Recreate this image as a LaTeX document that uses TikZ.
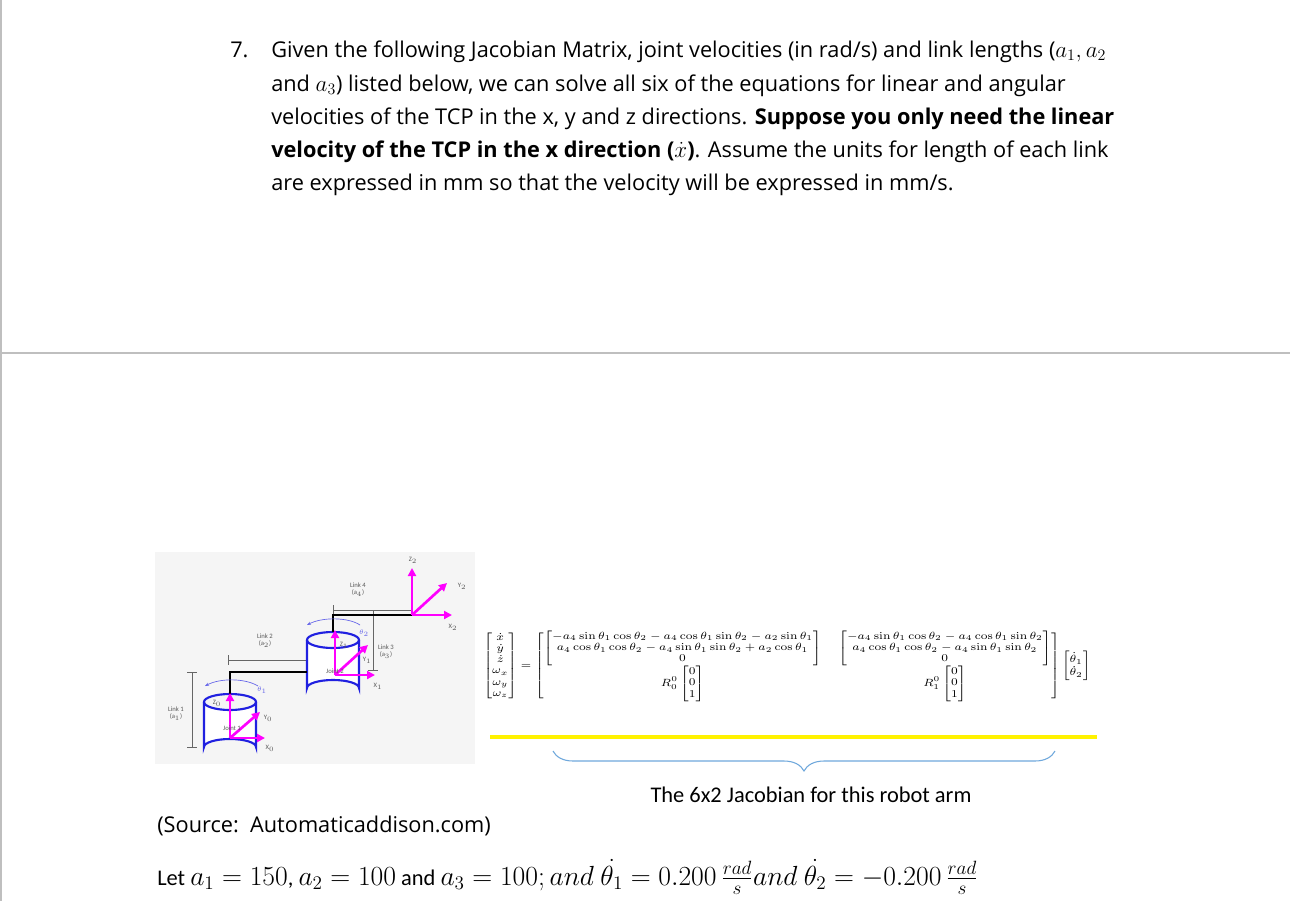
\documentclass[tikz,border=0pt]{standalone}
\usepackage{amsmath}
\usepackage[no-math]{fontspec}
\setmainfont{Open Sans}
\newfontfamily\calfont{Carlito}
\usetikzlibrary{decorations.pathreplacing,arrows.meta}
\definecolor{mag}{HTML}{FF00FF}
\definecolor{cylb}{HTML}{2020E0}
\definecolor{brc}{HTML}{6FA8DC}
\tikzset{
 body/.style={anchor=base west,inner sep=0pt,font=\fontsize{16.3}{18}\selectfont},
 lab/.style={inner sep=0pt,font=\calfont\fontsize{5}{5.5}\selectfont,text=black!65},
 frm/.style={draw=mag,line width=2pt,-{Triangle[length=6pt,width=6pt]}},
 cyl/.style={draw=cylb,line width=1.6pt},
 dim/.style={draw=black!60,line width=0.5pt},
 lnk/.style={draw=black,line width=1.4pt},
 arcst/.style={draw=cylb!70,line width=0.5pt,-{Stealth[length=3pt]}}
}
\newcommand{\bm}[1]{{\fontsize{18.5}{20}\selectfont$#1$}}
\newcommand{\bmb}[1]{{\fontsize{21}{22}\selectfont$#1$}}
\begin{document}
\begin{tikzpicture}[x=0.75pt,y=-0.75pt]
\useasboundingbox (0,0) rectangle (1290,901);
\fill[white] (0,0) rectangle (1290,901);
\draw[black!25,line width=2pt] (1,0) -- (1,901);
\draw[black!25,line width=2.2pt] (0,353) -- (1290,353);
% question text
\node[body] (n7) at (230,57) {7.};
\node[body] (l1) at (271,57) {Given the following Jacobian Matrix, joint velocities (in rad/s) and link lengths (\bm{a_1,a_2}};
\node[body] (l2) at (271,91) {and \bm{a_3}) listed below, we can solve all six of the equations for linear and angular};
\node[body] (l3) at (271,124) {velocities of the TCP in the x, y and z directions. \textbf{Suppose you only need the linear}};
\node[body] (l4) at (271,157) {\textbf{velocity of the TCP in the x direction (\bm{\dot{x}})}. Assume the units for length of each link};
\node[body] (l5) at (271,190) {are expressed in mm so that the velocity will be expressed in mm/s.};
% robot picture
\fill[black!4] (155,552) rectangle (475,764);
\draw[dim] (192,672) -- (192,747);
\draw[dim] (187,672) -- (197,672); \draw[dim] (187,747) -- (197,747);
\draw[dim] (228,660) -- (333,660); \draw[dim] (228,655) -- (228,665);
\draw[dim] (373,610) -- (373,670); \draw[dim] (368,610) -- (378,610); \draw[dim] (368,670) -- (378,670);
\draw[dim] (333,610) -- (412,610); \draw[dim] (333,605) -- (333,615);
\fill[white] (204,702) -- (204,747) arc[start angle=180,end angle=360,x radius=26,y radius=8] -- (256,702) arc[start angle=0,end angle=180,x radius=26,y radius=8];
\draw[cyl] (230,702) ellipse[x radius=26,y radius=8];
\draw[cyl] (204,702) -- (204,747) arc[start angle=180,end angle=360,x radius=26,y radius=8] -- (256,702);
\fill[white] (307,640) -- (307,688) arc[start angle=180,end angle=360,x radius=26,y radius=8] -- (359,640) arc[start angle=0,end angle=180,x radius=26,y radius=8];
\draw[cyl] (333,640) ellipse[x radius=26,y radius=8];
\draw[cyl] (307,640) -- (307,688) arc[start angle=180,end angle=360,x radius=26,y radius=8] -- (359,640);
\draw[lnk] (230,695) -- (230,672) -- (307,672);
\draw[lnk] (333,632) -- (333,615) -- (412,615);
\draw[arcst] (258,686) .. controls (245,678) and (220,678) .. (205,686);
\draw[arcst] (360,625) .. controls (348,617) and (322,617) .. (307,625);
\draw[frm] (230,738) -- (230,693); \draw[frm] (230,738) -- (260,712); \draw[frm] (230,738) -- (265,738);
\draw[frm] (335,675) -- (335,630); \draw[frm] (335,675) -- (368,645); \draw[frm] (335,675) -- (375,675);
\draw[frm] (412,615) -- (412,568); \draw[frm] (412,615) -- (447,583); \draw[frm] (412,615) -- (452,615);
\node[lab,align=center] (k1) at (176,714) {Link 1\\(a$_1$)};
\node[lab,align=center] (k2) at (265,641) {Link 2\\(a$_2$)};
\node[lab,align=center] (k3) at (386,652) {Link 3\\(a$_3$)};
\node[lab,align=center] (k4) at (358,590) {Link 4\\(a$_4$)};
\node[lab] (j1) at (232,728) {Joint 1};
\node[lab] (j2) at (335,671) {Joint 2};
\node[lab] (z0) at (217,703) {Z$_0$}; \node[lab] (y0) at (268,718) {Y$_0$}; \node[lab] (x0) at (270,748) {X$_0$};
\node[lab] (z1) at (344,645) {Z$_1$}; \node[lab] (y1) at (367,660) {Y$_1$}; \node[lab] (x1) at (378,686) {X$_1$};
\node[lab] (z2) at (413,560) {Z$_2$}; \node[lab] (y2) at (462,586) {Y$_2$}; \node[lab] (x2) at (453,627) {X$_2$};
\node[lab,text=cylb!70] (t1) at (262,690) {$\theta_1$};
\node[lab,text=cylb!70] (t2) at (364,633) {$\theta_2$};
% matrix
\node[inner sep=0pt,font=\fontsize{6.6}{7.5}\selectfont,xscale=1.27,yscale=1.12,transform shape] (mat) at (787,666) {$\displaystyle
\begin{bmatrix}\dot x\\ \dot y\\ \dot z\\ \omega_x\\ \omega_y\\ \omega_z\end{bmatrix}
=\left[\begin{matrix}
\begin{bmatrix}-a_4\sin\theta_1\cos\theta_2-a_4\cos\theta_1\sin\theta_2-a_2\sin\theta_1\\ a_4\cos\theta_1\cos\theta_2-a_4\sin\theta_1\sin\theta_2+a_2\cos\theta_1\\ 0\end{bmatrix} &
\begin{bmatrix}-a_4\sin\theta_1\cos\theta_2-a_4\cos\theta_1\sin\theta_2\\ a_4\cos\theta_1\cos\theta_2-a_4\sin\theta_1\sin\theta_2\\ 0\end{bmatrix}\\
R^0_0\begin{bmatrix}0\\0\\1\end{bmatrix} & R^0_1\begin{bmatrix}0\\0\\1\end{bmatrix}
\end{matrix}\right]
\begin{bmatrix}\dot\theta_1\\ \dot\theta_2\end{bmatrix}$};
\draw[yellow,line width=2.4pt] (490,737) -- (1097,737);
\draw[brc,line width=0.8pt,decorate,decoration={brace,mirror,amplitude=15pt,aspect=0.5}] (553,751) -- (1055,751);
\node[inner sep=0pt,anchor=base,font=\calfont\fontsize{16.8}{19}\selectfont] (cap) at (811,802) {The 6x2 Jacobian for this robot arm};
% bottom
\node[body] (src) at (157,832) {(Source:\ \ Automaticaddison.com)};
\node[body,font=\calfont\fontsize{16.8}{19}\selectfont] (let) at (157,885) {Let \bmb{a_1=150}, \bmb{a_2=100} and \bmb{a_3=100;and\ \dot{\theta_1}=0.200\,\frac{rad}{s}and\ \dot{\theta_2}=-0.200\,\frac{rad}{s}}};
\end{tikzpicture}
\end{document}
